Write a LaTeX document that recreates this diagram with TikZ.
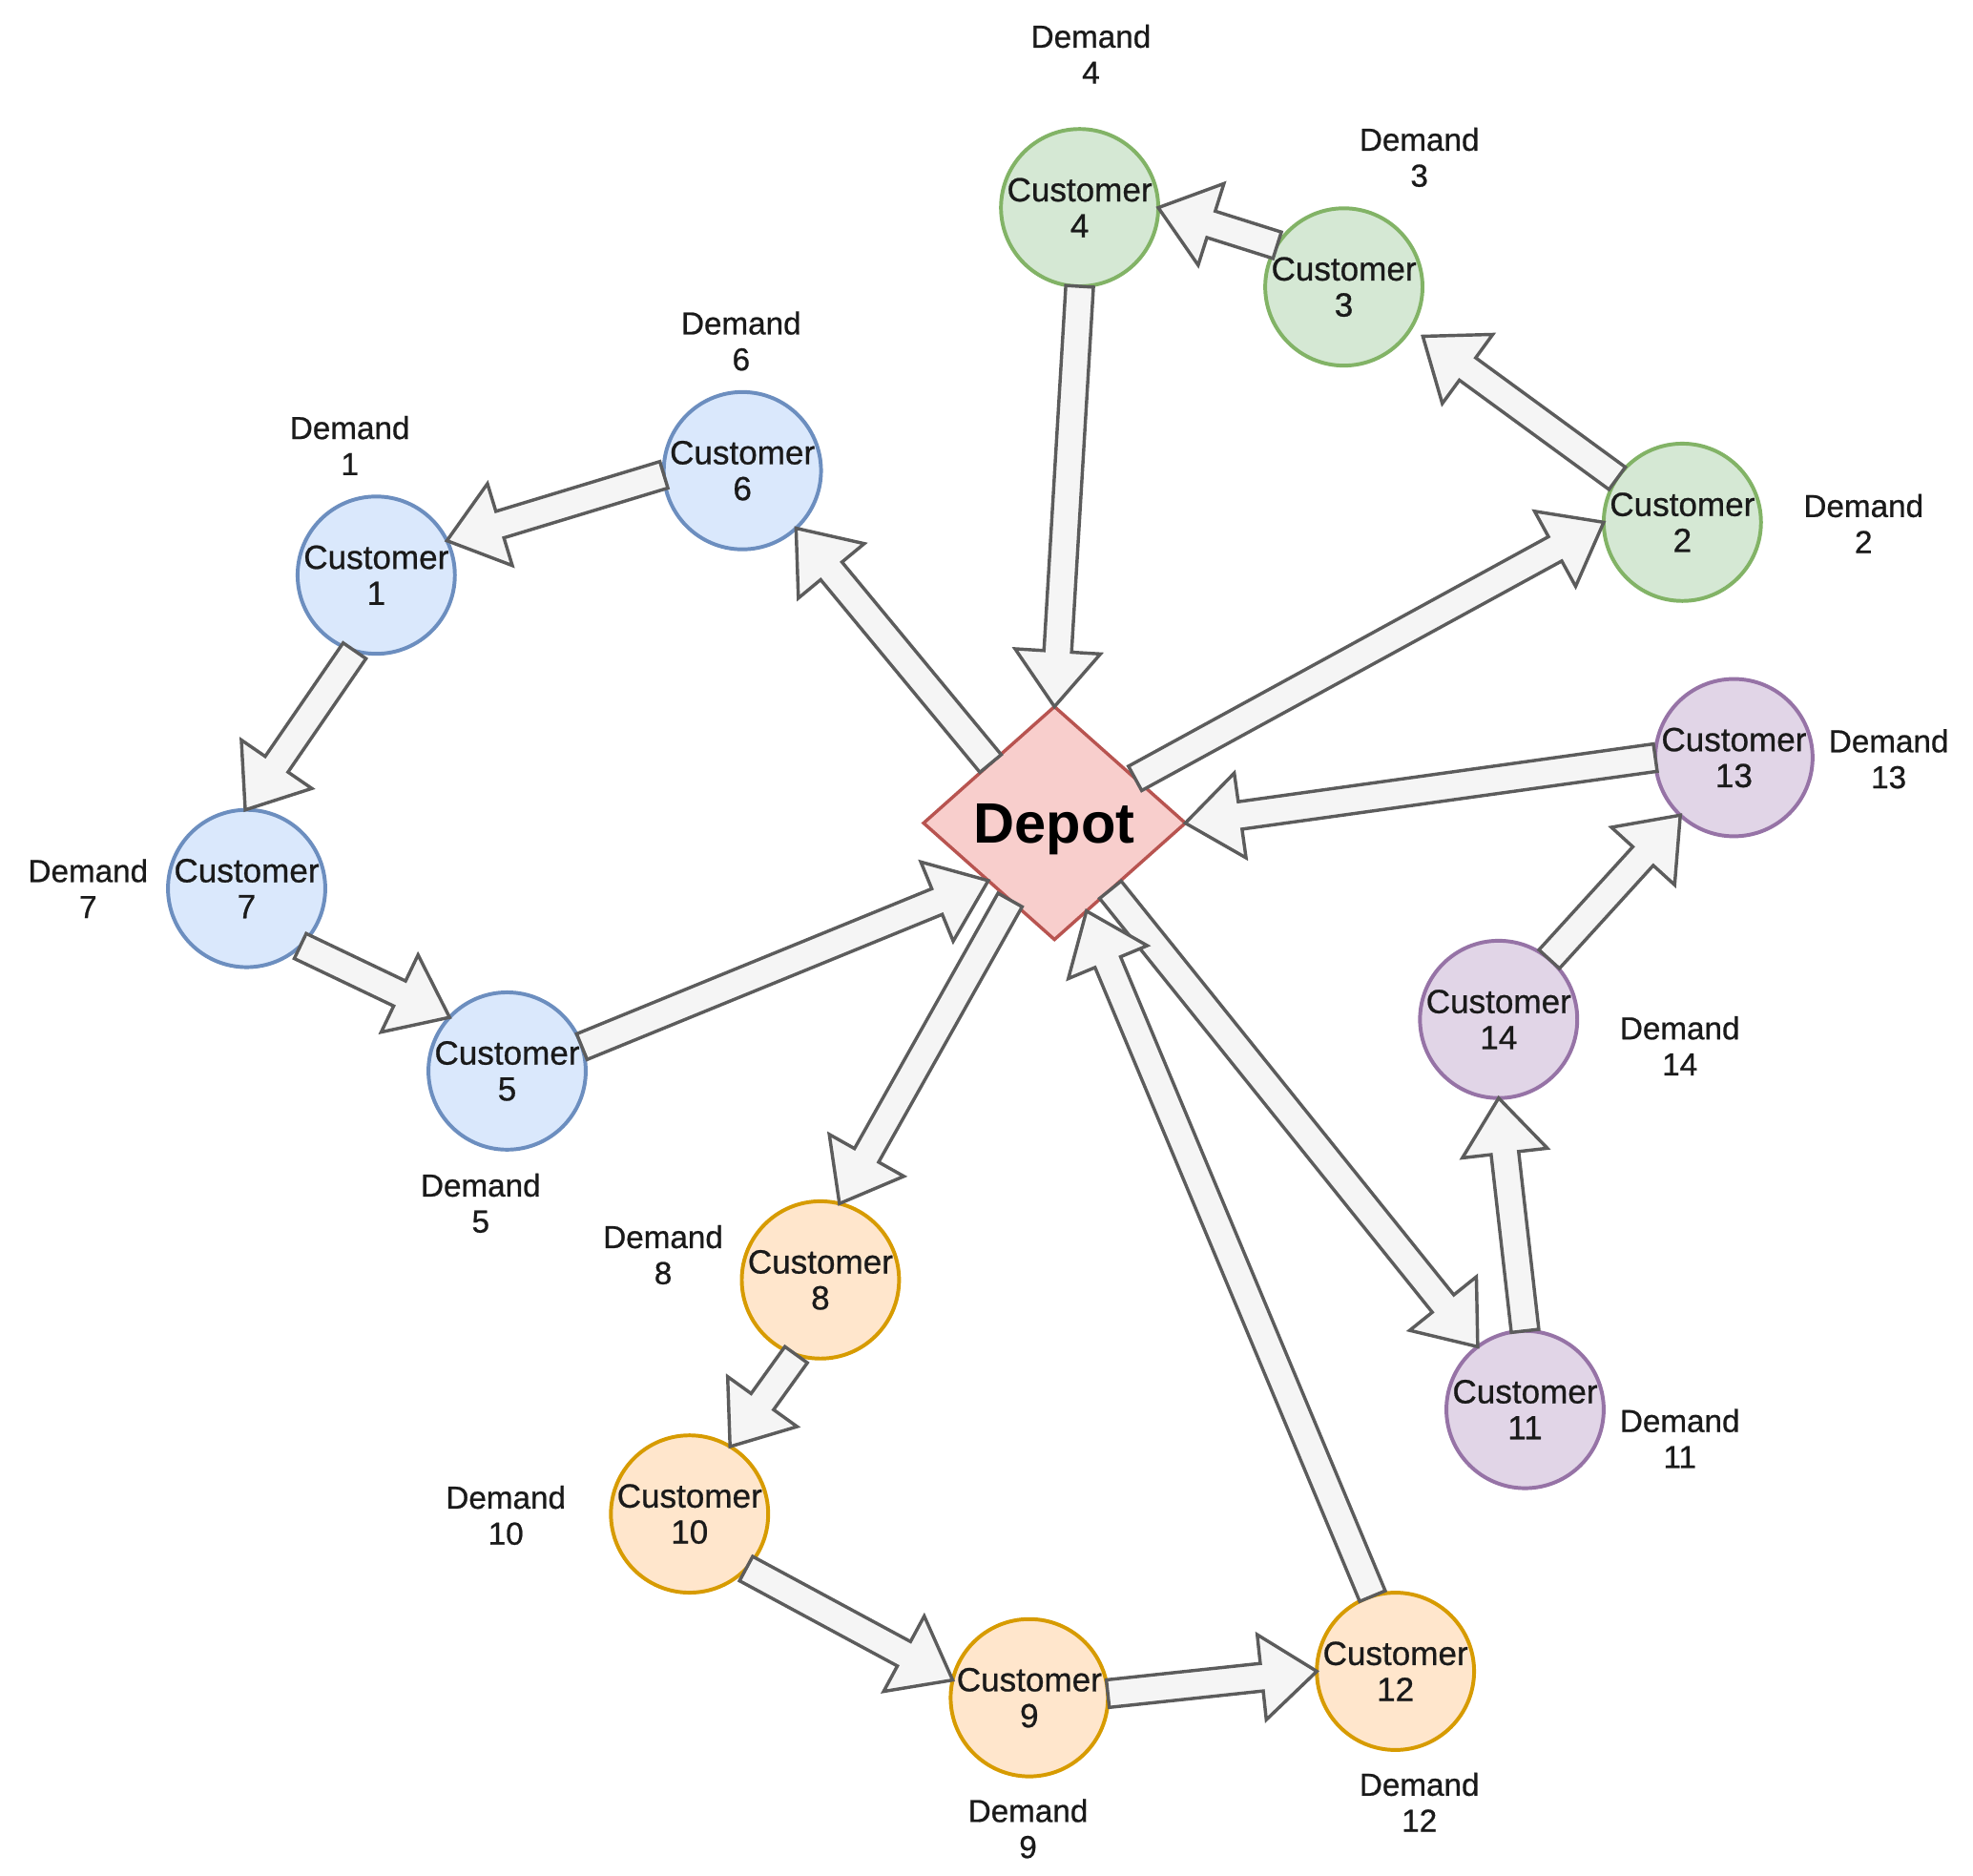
\documentclass[tikz,border=0pt]{standalone}
\usepackage{fontspec}
\setmainfont{Liberation Sans}
\newfontfamily\heavysans{Liberation Sans}[FakeBold=0.7]
\usetikzlibrary{calc,shapes.geometric}
\definecolor{gfill}{HTML}{D5E8D4}\definecolor{gline}{HTML}{82B366}
\definecolor{bfill}{HTML}{DAE8FC}\definecolor{bline}{HTML}{6C8EBF}
\definecolor{pfill}{HTML}{E1D5E7}\definecolor{pline}{HTML}{9673A6}
\definecolor{ofill}{HTML}{FFE6CC}\definecolor{oline}{HTML}{D79B00}
\definecolor{rfill}{HTML}{F8CECC}\definecolor{rline}{HTML}{B85450}
\definecolor{afill}{HTML}{F5F5F5}\definecolor{aline}{HTML}{5C5C5C}
\definecolor{txt}{HTML}{1A1A1A}
\tikzset{
  custc/.style={circle, minimum size=62.5pt, inner sep=0pt, outer sep=0pt, line width=1.5pt},
  gnode/.style={fill=gfill, draw=gline},
  bnode/.style={fill=bfill, draw=bline},
  pnode/.style={fill=pfill, draw=pline},
  onode/.style={fill=ofill, draw=oline},
  ctext/.style={align=center, inner sep=0pt, text=txt, font=\heavysans\fontsize{13.3}{14.3}\selectfont},
  dtext/.style={align=center, inner sep=0pt, text=txt, font=\heavysans\fontsize{12.6}{14.3}\selectfont},
  blkarrow/.style={fill=afill, draw=aline, line width=1.3pt, line join=miter},
  depotbox/.style={diamond, minimum width=104pt, minimum height=92.5pt, inner sep=0pt, outer sep=0pt,
     fill=rfill, draw=rline, line width=1.3pt, text=black, text depth=0pt,
     font=\bfseries\fontsize{22.6}{24}\selectfont}
}
\newcommand\custnode[3]{\node[custc,#2] (#1) at (#3) {};}
\newcommand\custtext[2]{\node[ctext] (#1t) at (#1) {Customer\\#2};}
\newcommand\blockarr[2]{%
  \path (#1) coordinate (bA) (#2) coordinate (bB);
  \coordinate (bH) at ($(bB)!22pt!(bA)$);
  \draw[blkarrow] ($(bA)!5.5pt!90:(bB)$) -- ($(bH)!5.5pt!-90:(bA)$) -- ($(bH)!17pt!-90:(bA)$)
     -- (bB) -- ($(bH)!17pt!90:(bA)$) -- ($(bH)!5.5pt!90:(bA)$) -- ($(bA)!5.5pt!-90:(bB)$) -- cycle;
}
\begin{document}
\begin{tikzpicture}[x=0.5pt,y=-0.5pt]
\fill[white] (0,0) rectangle (1568,1490);
\useasboundingbox (0,0) rectangle (1568,1490);
% nodes
\custnode{c4}{gnode}{858,165}
\custnode{c3}{gnode}{1068,228}
\custnode{c2}{gnode}{1337,415}
\custnode{c6}{bnode}{590,374}
\custnode{c1}{bnode}{299,457}
\custnode{c7}{bnode}{196,706}
\custnode{c5}{bnode}{403,851}
\custnode{c13}{pnode}{1378,602}
\custnode{c14}{pnode}{1191,810}
\custnode{c11}{pnode}{1212,1120}
\custnode{c8}{onode}{652,1017}
\custnode{c10}{onode}{548,1203}
\custnode{c9}{onode}{818,1349}
\custnode{c12}{onode}{1109,1328}
\node[depotbox] (depot) at (838,654) {Depot};
% arrows
\blockarr{c4.-90}{depot.90}
\blockarr{c3.148}{c4.0}
\blockarr{c2.146}{$(c3)+(-32:37pt)$}
\blockarr{depot.29}{c2.180}
\blockarr{c13.180}{depot.0}
\blockarr{c14.50}{c13.-133}
\blockarr{c11.90}{c14.-90}
\blockarr{depot.-50}{c11.127}
\blockarr{c12.107}{depot.-70}
\blockarr{c9.3}{c12.180}
\blockarr{c10.-44}{c9.167}
\blockarr{c8.-108}{c10.59}
\blockarr{depot.-120}{c8.76}
\blockarr{c5.18}{depot.-139}
\blockarr{c7.-47}{c5.137}
\blockarr{c1.-106}{c7.91}
\blockarr{c6.183}{c1.26}
\blockarr{depot.137}{c6.-47}
% customer texts
\custtext{c1}{1}\custtext{c2}{2}\custtext{c3}{3}\custtext{c4}{4}\custtext{c5}{5}
\custtext{c6}{6}\custtext{c7}{7}\custtext{c8}{8}\custtext{c9}{9}\custtext{c10}{10}
\custtext{c11}{11}\custtext{c12}{12}\custtext{c13}{13}\custtext{c14}{14}
% demand labels
\node[dtext] (d4) at (867,43) {Demand\\4};
\node[dtext] (d3) at (1128,125) {Demand\\3};
\node[dtext] (d6) at (589,271) {Demand\\6};
\node[dtext] (d1) at (278,354) {Demand\\1};
\node[dtext] (d2) at (1481,416) {Demand\\2};
\node[dtext] (d13) at (1501,603) {Demand\\13};
\node[dtext] (d7) at (70,706) {Demand\\7};
\node[dtext] (d14) at (1335,831) {Demand\\14};
\node[dtext] (d5) at (382,956) {Demand\\5};
\node[dtext] (d8) at (527,997) {Demand\\8};
\node[dtext] (d11) at (1335,1143) {Demand\\11};
\node[dtext] (d10) at (402,1204) {Demand\\10};
\node[dtext] (d12) at (1128,1432) {Demand\\12};
\node[dtext] (d9) at (817,1453) {Demand\\9};
\end{tikzpicture}
\end{document}
